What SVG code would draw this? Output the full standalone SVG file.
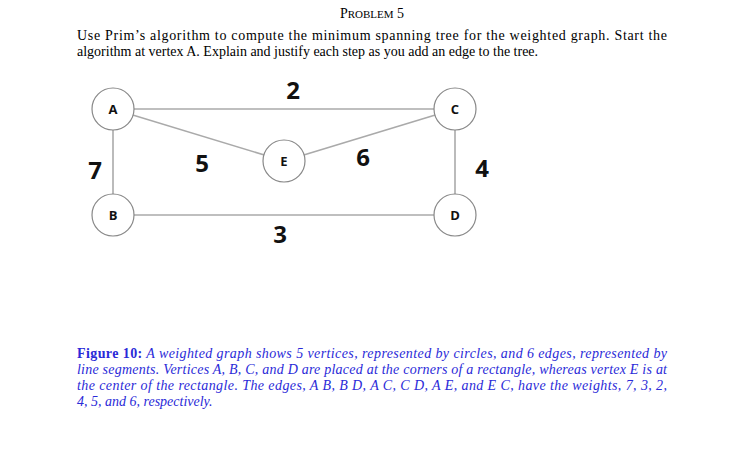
<svg xmlns="http://www.w3.org/2000/svg" width="745" height="460" viewBox="0 0 745 460">
<style>
.t{font-family:"Liberation Serif",serif;font-size:14px;fill:#000}
.c{font-family:"Liberation Serif",serif;font-size:14px;fill:#2a2ad8;font-style:italic}
.n circle{fill:#fff;stroke:#888;stroke-width:1.2}
.n text{font-family:"Open Sans","DejaVu Sans",sans-serif;font-weight:bold;font-size:13px;text-anchor:middle;fill:#111}
.w{font-family:"Open Sans","DejaVu Sans",sans-serif;font-weight:bold;font-size:24px;text-anchor:middle;fill:#111}
#edges line{stroke:#aaa;stroke-width:1.6}
</style>
<rect width="745" height="460" fill="#fff"/>
<text class="t" x="372" y="18" text-anchor="middle">P<tspan font-size="11">ROBLEM</tspan> 5</text>
<text class="t" x="77" y="40" textLength="590" lengthAdjust="spacing">Use Prim’s algorithm to compute the minimum spanning tree for the weighted graph. Start the</text>
<text class="t" x="77" y="56">algorithm at vertex A. Explain and justify each step as you add an edge to the tree.</text>
<g id="edges">
<line x1="113" y1="109" x2="455" y2="109"/>
<line x1="113" y1="109" x2="113" y2="215"/>
<line x1="113" y1="215" x2="455" y2="215"/>
<line x1="455" y1="109" x2="455" y2="215"/>
<line x1="113" y1="109" x2="284" y2="161"/>
<line x1="284" y1="161" x2="455" y2="109"/>
</g>
<text class="w" x="293" y="99">2</text>
<text class="w" x="95" y="179">7</text>
<text class="w" x="202" y="172">5</text>
<text class="w" x="363" y="166">6</text>
<text class="w" x="482" y="177">4</text>
<text class="w" x="280" y="243">3</text>
<g id="A" class="n"><circle cx="113" cy="109" r="21"/><text x="113" y="114">A</text></g>
<g id="C" class="n"><circle cx="455" cy="109" r="21"/><text x="455" y="114">C</text></g>
<g id="E" class="n"><circle cx="284" cy="161" r="21"/><text x="284" y="166">E</text></g>
<g id="B" class="n"><circle cx="113" cy="215" r="21"/><text x="113" y="220">B</text></g>
<g id="D" class="n"><circle cx="455" cy="215" r="21"/><text x="455" y="220">D</text></g>
<text class="c" x="77" y="358" textLength="590" lengthAdjust="spacing"><tspan font-style="normal" font-weight="bold">Figure 10:</tspan> A weighted graph shows 5 vertices, represented by circles, and 6 edges, represented by</text>
<text class="c" x="77" y="374" textLength="590" lengthAdjust="spacing">line segments. Vertices A, B, C, and D are placed at the corners of a rectangle, whereas vertex E is at</text>
<text class="c" x="77" y="390" textLength="590" lengthAdjust="spacing">the center of the rectangle. The edges, A B, B D, A C, C D, A E, and E C, have the weights, 7, 3, 2,</text>
<text class="c" x="77" y="406">4, 5, and 6, respectively.</text>
</svg>
